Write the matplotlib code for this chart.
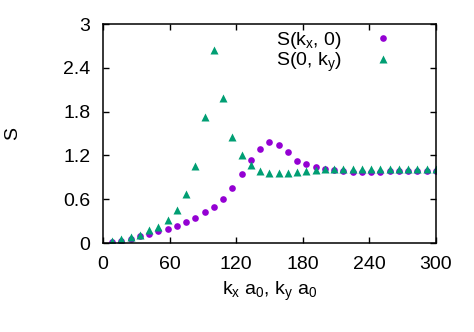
import matplotlib
matplotlib.use('Agg')
import matplotlib.pyplot as plt
import numpy as np

plt.rcParams['font.family'] = ['Liberation Sans', 'DejaVu Sans']
plt.rcParams['mathtext.fontset'] = 'custom'
plt.rcParams['mathtext.rm'] = 'Liberation Sans'
plt.rcParams['mathtext.it'] = 'Liberation Sans'
plt.rcParams['mathtext.default'] = 'regular'

# wavevector grid (k a0)
k = np.arange(1, 37) * 300 / 36

s_kx = [0.01, 0.03, 0.055, 0.09, 0.12, 0.16, 0.19, 0.23, 0.29, 0.34,
        0.42, 0.49, 0.60, 0.76, 0.95, 1.14, 1.29, 1.39, 1.34, 1.25,
        1.13, 1.08, 1.04, 1.01, 1.00, 0.98, 0.97, 0.97, 0.97, 0.97,
        0.98, 0.98, 0.98, 0.99, 0.99, 0.99]
s_ky = [0.03, 0.05, 0.08, 0.11, 0.18, 0.22, 0.31, 0.45, 0.67, 1.06,
        1.72, 2.64, 1.99, 1.45, 1.20, 1.07, 0.98, 0.96, 0.96, 0.96,
        0.97, 0.99, 1.00, 1.01, 1.01, 1.01, 1.01, 1.01, 1.01, 1.01,
        1.01, 1.01, 1.01, 1.01, 1.01, 1.01]

xticks = [0, 60, 120, 180, 240, 300]
yticks = [0, 0.6, 1.2, 1.8, 2.4, 3]
ytick_labels = ['0', '0.6', '1.2', '1.8', '2.4', '3']

fs = 14

fig = plt.figure(figsize=(4.74, 3.32), dpi=100)
ax = fig.add_axes([0.2173, 0.268, 0.7025, 0.6596])

ax.plot(k, s_kx, 'o', color='#9400d3', ms=4.8, mec='none', label=r'S(k$_x$, 0)')
ax.plot(k, s_ky, '^', color='#009e73', ms=5.6, mec='none', label=r'S(0, k$_y$)')

ax.set_xlim(0, 300)
ax.set_ylim(0, 3)
ax.set_xticks(xticks)
ax.set_yticks(yticks)
ax.set_yticklabels(ytick_labels)
ax.tick_params(direction='in', top=True, right=True, length=4.3, width=1,
               labelsize=fs, pad=9)
for sp in ax.spines.values():
    sp.set_linewidth(1.1)

ax.set_xlabel(r'k$_x$ a$_0$, k$_y$ a$_0$', fontsize=fs, labelpad=5)
ax.set_ylabel('S', fontsize=fs, rotation=90, labelpad=30)

ax.legend(loc='upper right', bbox_to_anchor=(0.91, 1.035), frameon=False,
          markerfirst=False, fontsize=fs, handlelength=1.0,
          handletextpad=1.6, borderpad=0.2, labelspacing=0.0)

plt.savefig('out.png', dpi=100)
